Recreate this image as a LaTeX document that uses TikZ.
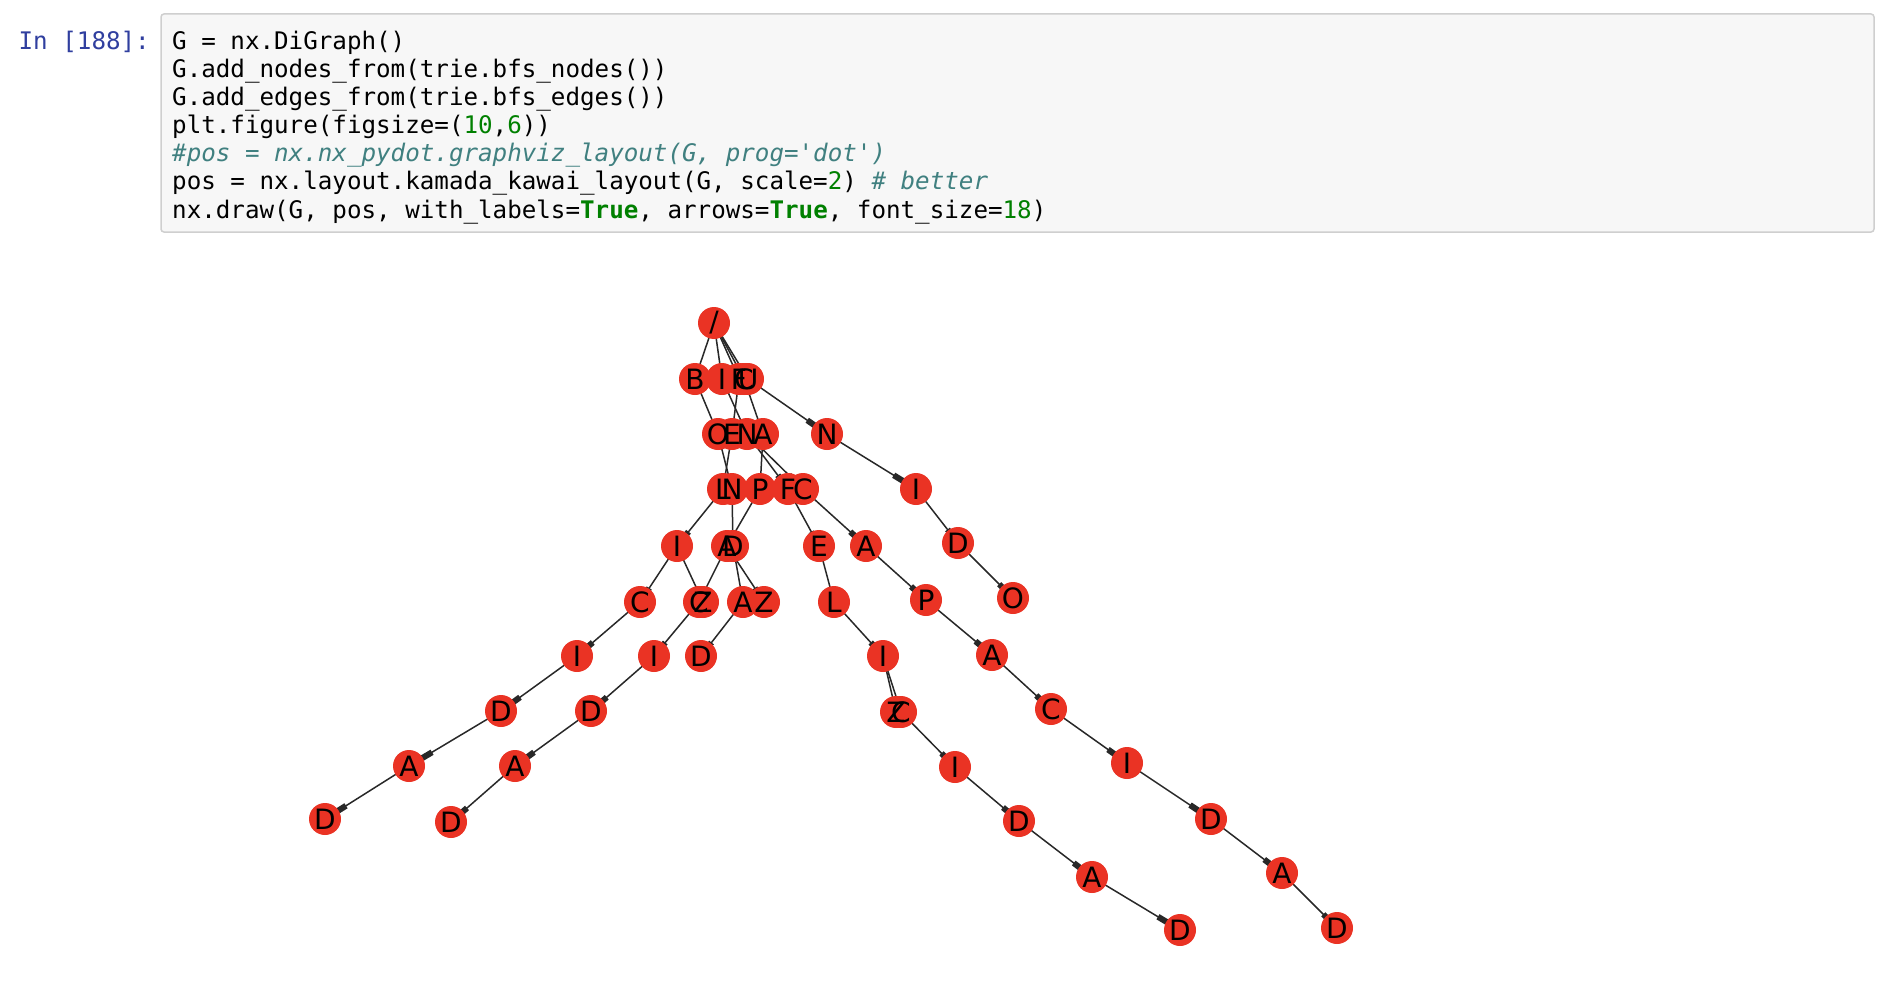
\documentclass[tikz,border=0pt]{standalone}
\usepackage{fontspec}
\setmainfont{DejaVu Sans}
\setmonofont{DejaVu Sans Mono}
\usetikzlibrary{decorations.markings}

\definecolor{nodered}{RGB}{234,51,36}
\definecolor{edgegray}{RGB}{40,40,40}
\definecolor{cellgray}{RGB}{247,247,247}
\definecolor{cellline}{RGB}{207,207,207}
\definecolor{promptblue}{RGB}{48,63,159}
\definecolor{kwgreen}{RGB}{0,128,0}
\definecolor{cmtteal}{RGB}{64,128,128}

\pgfdeclarelayer{edgelayer}
\pgfdeclarelayer{disklayer}
\pgfsetlayers{edgelayer,disklayer,main}

\tikzset{
  cell/.style={fill=cellgray, draw=cellline, line width=1.5pt, rounded corners=3pt},
  code/.style={anchor=base west, inner sep=0pt, font=\ttfamily\fontsize{24.2}{28}\selectfont},
  vx/.style={circle, minimum size=32pt, inner sep=0pt, font=\fontsize{28}{28}\selectfont},
  arc/.style={draw=edgegray, line width=1.5pt,
    postaction={decorate, decoration={markings, mark=at position 0.75 with {
      \pgfmathsetmacro\stublen{0.25*\pgfdecoratedpathlength}
      \draw[edgegray, line width=6pt] (0pt,0pt) -- (\stublen pt,0pt);}}}}
}

\begin{document}
\begin{tikzpicture}[x=1pt,y=-1pt]
\useasboundingbox (0,0) rectangle (1888,998);

% notebook cell
\draw[cell] (161,14) rectangle (1874,232);
\node[code, anchor=base east, text=promptblue] (prompt) at (150,49.7) {In [188]:};
\node[code] (l1) at (172,49.7) {G = nx.DiGraph()};
\node[code] (l2) at (172,77.5) {G.add\_nodes\_from(trie.bfs\_nodes())};
\node[code] (l3) at (172,105.6) {G.add\_edges\_from(trie.bfs\_edges())};
\node[code] (l4) at (172,133.7) {plt.figure(figsize=({\color{kwgreen}10},{\color{kwgreen}6}))};
\node[code, text=cmtteal, font=\ttfamily\itshape\fontsize{24.2}{28}\selectfont] (l5) at (172,161.8) {\#pos = nx.nx\_pydot.graphviz\_layout(G, prog='dot')};
\node[code] (l6) at (172,189.9) {pos = nx.layout.kamada\_kawai\_layout(G, scale={\color{kwgreen}2}) {\itshape\color{cmtteal}\# better}};
\node[code] (l7) at (172,218) {nx.draw(G, pos, with\_labels={\bfseries\color{kwgreen}True}, arrows={\bfseries\color{kwgreen}True}, font\_size={\color{kwgreen}18})};

% trie nodes
\node[vx] (r) at (714,323) {/};

\node[vx] (b) at (695,379) {B};
\node[vx] (i) at (722,379) {I};
\node[vx] (f) at (739,379) {F};
\node[vx] (c) at (744,379) {C};
\node[vx] (u) at (748,379) {U};

\node[vx] (bo) at (718,434) {O};
\node[vx] (fe) at (732,434) {E};
\node[vx] (in) at (747,434) {N};
\node[vx] (ca) at (763,434) {A};
\node[vx] (un) at (827,434) {N};

\node[vx] (fel) at (723,489) {L};
\node[vx] (bon) at (732,489) {N};
\node[vx] (cap) at (760,489) {P};
\node[vx] (inf) at (788,489) {F};
\node[vx] (inc) at (803,489) {C};
\node[vx] (uni) at (916,489) {I};

\node[vx] (feli) at (677,546) {I};
\node[vx] (capa) at (727,546) {A};
\node[vx] (bond) at (733,546) {D};
\node[vx] (infe) at (819,546) {E};
\node[vx] (inca) at (866,546) {A};
\node[vx] (unid) at (958,543) {D};

\node[vx] (felic) at (640,602) {C};
\node[vx] (capac) at (699,602) {C};
\node[vx] (feliz) at (703,602) {Z};
\node[vx] (bonda) at (743,602) {A};
\node[vx] (capaz) at (764,602) {Z};
\node[vx] (infel) at (834,602) {L};
\node[vx] (incap) at (926,600) {P};
\node[vx] (unido) at (1013,598) {O};

\node[vx] (felici) at (577,656) {I};
\node[vx] (capaci) at (654,656) {I};
\node[vx] (bondad) at (701,656) {D};
\node[vx] (infeli) at (883,656) {I};
\node[vx] (incapa) at (992,655) {A};

\node[vx] (felicid) at (501,711) {D};
\node[vx] (capacid) at (591,711) {D};
\node[vx] (infeliz) at (896,712) {Z};
\node[vx] (infelic) at (901,712) {C};
\node[vx] (incapac) at (1051,709) {C};

\node[vx] (felicida) at (409,766) {A};
\node[vx] (capacida) at (515,766) {A};
\node[vx] (infelici) at (955,767) {I};
\node[vx] (incapaci) at (1127,763) {I};

\node[vx] (felicidad) at (325,819) {D};
\node[vx] (capacidad) at (451,822) {D};
\node[vx] (infelicid) at (1019,821) {D};
\node[vx] (incapacid) at (1211,819) {D};

\node[vx] (infelicida) at (1092,877) {A};
\node[vx] (incapacida) at (1282,873) {A};

\node[vx] (infelicidad) at (1180,930) {D};
\node[vx] (incapacidad) at (1337,928) {D};

\begin{pgfonlayer}{disklayer}
\foreach \n in {r,b,i,f,c,u,bo,fe,in,ca,un,fel,bon,cap,inf,inc,uni,
  feli,capa,bond,infe,inca,unid,felic,capac,feliz,bonda,capaz,infel,incap,unido,
  felici,capaci,bondad,infeli,incapa,felicid,capacid,infeliz,infelic,incapac,
  felicida,capacida,infelici,incapaci,felicidad,capacidad,infelicid,incapacid,
  infelicida,incapacida,infelicidad,incapacidad}
  \fill[nodered] (\n.center) circle (16pt);
\end{pgfonlayer}

\begin{pgfonlayer}{edgelayer}
\draw[arc] (r.center) -- (b.center);
\draw[arc] (r.center) -- (i.center);
\draw[arc] (r.center) -- (f.center);
\draw[arc] (r.center) -- (c.center);
\draw[arc] (r.center) -- (u.center);

\draw[arc] (b.center) -- (bo.center);
\draw[arc] (f.center) -- (fe.center);
\draw[arc] (i.center) -- (in.center);
\draw[arc] (c.center) -- (ca.center);
\draw[arc] (u.center) -- (un.center);

\draw[arc] (bo.center) -- (bon.center);
\draw[arc] (fe.center) -- (fel.center);
\draw[arc] (in.center) -- (inf.center);
\draw[arc] (in.center) -- (inc.center);
\draw[arc] (ca.center) -- (cap.center);
\draw[arc] (un.center) -- (uni.center);

\draw[arc] (bon.center) -- (bond.center);
\draw[arc] (fel.center) -- (feli.center);
\draw[arc] (inf.center) -- (infe.center);
\draw[arc] (inc.center) -- (inca.center);
\draw[arc] (cap.center) -- (capa.center);
\draw[arc] (uni.center) -- (unid.center);

\draw[arc] (bond.center) -- (bonda.center);
\draw[arc] (feli.center) -- (felic.center);
\draw[arc] (feli.center) -- (feliz.center);
\draw[arc] (capa.center) -- (capac.center);
\draw[arc] (capa.center) -- (capaz.center);
\draw[arc] (infe.center) -- (infel.center);
\draw[arc] (inca.center) -- (incap.center);
\draw[arc] (unid.center) -- (unido.center);

\draw[arc] (bonda.center) -- (bondad.center);
\draw[arc] (felic.center) -- (felici.center);
\draw[arc] (capac.center) -- (capaci.center);
\draw[arc] (infel.center) -- (infeli.center);
\draw[arc] (incap.center) -- (incapa.center);

\draw[arc] (felici.center) -- (felicid.center);
\draw[arc] (capaci.center) -- (capacid.center);
\draw[arc] (infeli.center) -- (infelic.center);
\draw[arc] (infeli.center) -- (infeliz.center);
\draw[arc] (incapa.center) -- (incapac.center);

\draw[arc] (felicid.center) -- (felicida.center);
\draw[arc] (capacid.center) -- (capacida.center);
\draw[arc] (infelic.center) -- (infelici.center);
\draw[arc] (incapac.center) -- (incapaci.center);

\draw[arc] (felicida.center) -- (felicidad.center);
\draw[arc] (capacida.center) -- (capacidad.center);
\draw[arc] (infelici.center) -- (infelicid.center);
\draw[arc] (incapaci.center) -- (incapacid.center);

\draw[arc] (infelicid.center) -- (infelicida.center);
\draw[arc] (incapacid.center) -- (incapacida.center);

\draw[arc] (infelicida.center) -- (infelicidad.center);
\draw[arc] (incapacida.center) -- (incapacidad.center);
\end{pgfonlayer}

\end{tikzpicture}
\end{document}
